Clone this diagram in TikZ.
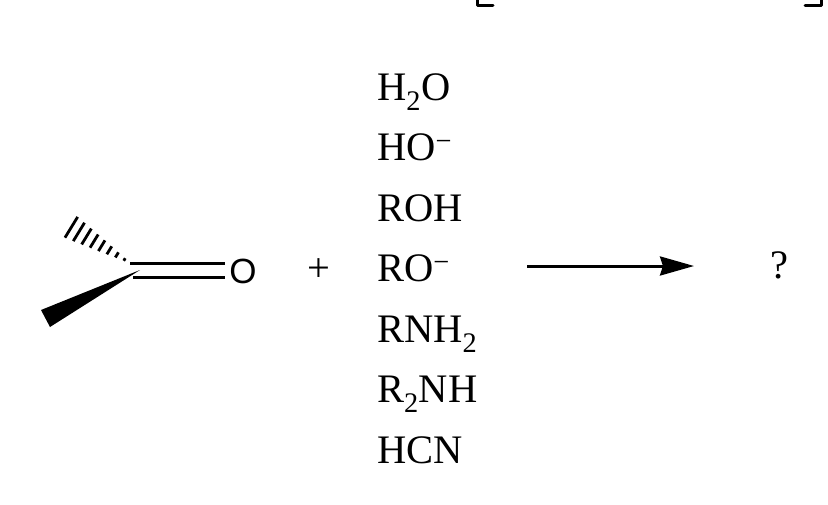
\documentclass[tikz,border=0pt]{standalone}
\usepackage{fontspec}
\setmainfont{Liberation Serif}
\newfontfamily\atomfont{Liberation Sans}
\usetikzlibrary{arrows.meta}
\tikzset{
    reagent/.style={anchor=base west, inner sep=0pt, font=\fontsize{40.5}{40.5}\selectfont},
    bond/.style={line width=3pt},
    hash/.style={line width=2.8pt},
    bracket/.style={line width=3pt, line cap=round, line join=round}
}
\begin{document}
\begin{tikzpicture}[x=1pt, y=-1pt]
        \useasboundingbox (0, 0) rectangle (828, 504);

        % reagents
        \draw (377, 100) node[reagent] (water) {H\textsubscript{2}O};
        \draw (377, 160) node[reagent] (hydroxide) {HO\textsuperscript{−}};
        \draw (377, 221) node[reagent] (alcohol) {ROH};
        \draw (377, 281) node[reagent] (alkoxide) {RO\textsuperscript{−}};
        \draw (377, 342) node[reagent] (primary) {RNH\textsubscript{2}};
        \draw (377, 402) node[reagent] (secondary) {R\textsubscript{2}NH};
        \draw (377, 463) node[reagent] (cyanide) {HCN};

        \draw (319, 281) node[reagent, anchor=base] (plus) {+};
        \draw (779, 278) node[reagent, anchor=base] (result) {?};
        \draw (243, 271.5) node[inner sep=0pt, font=\atomfont\fontsize{35}{35}\selectfont] (oxygen) {O};

        % carbonyl
        \coordinate (upperC) at (130, 263);
        \coordinate (lowerC) at (133, 277);
        \coordinate (upperO) at (225, 263);
        \coordinate (lowerO) at (225, 277);
        \draw[bond] (upperC) -- (upperO);
        \draw[bond] (lowerC) -- (lowerO);

        % wedge
        \coordinate (tip) at (140, 270);
        \coordinate (baseA) at (41, 310);
        \coordinate (baseB) at (50, 327);
        \fill (tip) -- (baseA) -- (baseB) -- cycle;

        % hashed bond
        \foreach \t/\w in {0/1.5, 1/3.0, 2/4.7, 3/6.3, 4/7.8, 5/9.3, 6/10.8, 7/12.2} {
            \draw[hash] ({124.5-\t*7.6-\w*0.52}, {259.5-\t*4.6+\w*0.85})
                     -- ({124.5-\t*7.6+\w*0.52}, {259.5-\t*4.6-\w*0.85});
        }

        % brackets
        \coordinate (leftA) at (477, -2);
        \coordinate (leftB) at (477, 5);
        \coordinate (leftC) at (493, 5);
        \coordinate (rightA) at (821, -2);
        \coordinate (rightB) at (821, 5);
        \coordinate (rightC) at (805, 5);
        \draw[bracket] (leftA) -- (leftB) -- (leftC);
        \draw[bracket] (rightA) -- (rightB) -- (rightC);

        % arrow
        \coordinate (start) at (527, 266);
        \coordinate (finish) at (694, 266);
        \draw[line width=3pt, -{Stealth[length=34pt, width=19pt, inset=3pt]}] (start) -- (finish);
    \end{tikzpicture}
\end{document}
